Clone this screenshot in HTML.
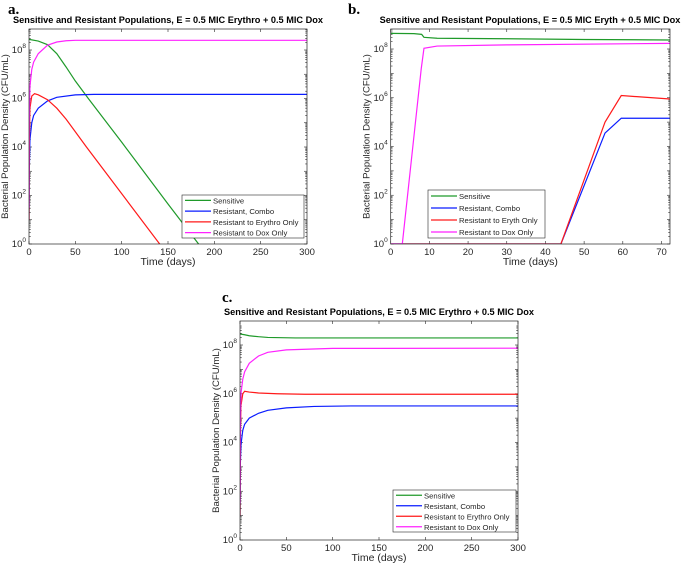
<!DOCTYPE html>
<html><head><meta charset="utf-8"><style>
html,body{margin:0;padding:0;background:#fff;}
svg{display:block;font-family:"Liberation Sans",Arial,sans-serif;}
</style></head><body>
<svg id="fig" width="685" height="566" viewBox="0 0 685 566" xmlns="http://www.w3.org/2000/svg"></svg>
<script>
// ---- Panel a data (log10 CFU/mL) ----
const aSensT=[0,10,20,30,40,50,64,100,150,183,190];
const aSensV=[8.44,8.37,8.22,7.85,7.3,6.72,6.0,4.2,1.65,0,-0.35];
const aComboT=[0,0.3,1,3,5,10,20,30,50,70,300];
const aComboV=[1,3,4.3,5.0,5.3,5.6,5.9,6.05,6.15,6.17,6.17];
const aErythT=[0,0.3,1,3,6,10,20,30,40,62,141,146];
const aErythV=[1,4,5.6,6.1,6.2,6.15,5.95,5.6,5.15,4,0,-0.25];
const aDoxT=[0,0.3,1,3,5,10,20,30,40,50,300];
const aDoxV=[1.5,5,6.5,7.2,7.5,7.85,8.2,8.33,8.38,8.4,8.4];
// ---- Panel b data ----
const bSensT=[0,6,8,8.6,12,30,50,72.2];
const bSensV=[8.64,8.63,8.6,8.48,8.44,8.42,8.39,8.37];
const bComboT=[0,44,55.4,59.6,72.2];
const bComboV=[0,0,4.55,5.16,5.16];
const bErythT=[0,44,55.4,59.6,72.2];
const bErythV=[0,0,5.0,6.09,5.95];
const bDoxT=[0,3,7.9,8.6,12,30,72.2];
const bDoxV=[0,0,7.2,8.03,8.12,8.17,8.23];
// ---- Panel c data ----
const cSensT=[0,5,10,20,30,45,60,100,300];
const cSensV=[8.45,8.42,8.38,8.34,8.31,8.3,8.29,8.29,8.29];
const cComboT=[0,0.3,1,3,5,10,20,30,50,80,120,300];
const cComboV=[1,3,3.9,4.5,4.75,5.0,5.2,5.32,5.42,5.48,5.5,5.5];
const cErythT=[0,0.3,1,3,5,10,20,40,70,100,300];
const cErythV=[1,4,5.5,6.0,6.1,6.07,6.03,6.0,5.98,5.98,5.98];
const cDoxT=[0,0.5,1,3,5,10,20,30,50,100,300];
const cDoxV=[1.5,5,6,6.6,6.9,7.25,7.55,7.7,7.8,7.86,7.87];
const xTicksA=[0,50,100,150,200,250,300];
const xTicksB=[0,10,20,30,40,50,60,70];
const yTicks=[0,2,4,6,8];

const NS="http://www.w3.org/2000/svg";
const svg=document.getElementById('fig');
function mk(tag,attrs,parent){const e=document.createElementNS(NS,tag);for(const k in attrs)e.setAttribute(k,attrs[k]);(parent||svg).appendChild(e);return e;}

function panel(id,box,xmax,ymax,xTicks,series,legend,title,titleX,letter,legendLabels){
  const g=mk('g',{});
  
  
  const {l,r,t,b}=box;
  const y0=b, dec=(b-box.y8)/8;
  const X=v=>l+(v/xmax)*(r-l);
  const Y=v=>y0-v*dec;
  const cp=mk('clipPath',{id:'clip'+id},g);
  mk('rect',{x:l,y:t,width:r-l,height:b-t},cp);
  const lt=mk('text',{x:letter[0],y:letter[1],'font-family':'"Liberation Serif",serif','font-weight':'bold','font-size':'15'},g);
  lt.textContent=id+'.';
  
  
  const tt=mk('text',{x:titleX,y:t-6,'font-weight':'bold','font-size':'9.2','text-anchor':'middle'},g);
  tt.textContent=title;
  
  
  const tg=mk('g',{stroke:'#262626','stroke-width':'0.6'},g);
  xTicks.forEach(v=>{
    const x=X(v);
    mk('line',{x1:x,x2:x,y1:b,y2:b-3},tg);mk('line',{x1:x,x2:x,y1:t,y2:t+3},tg);
    const tx=mk('text',{x:x,y:b+11,'font-size':'9.5','text-anchor':'middle',fill:'#262626',stroke:'none'},g);
    tx.textContent=v;
    
    
  });
  for(let d=0;d<Math.ceil(ymax);d++){
    for(let m=1;m<=9;m++){
      const lv=d+Math.log10(m); if(lv>ymax) break;
      const y=Y(lv), len=m===1?3:1.8;
      mk('line',{x1:l,x2:l+len,y1:y,y2:y},tg);mk('line',{x1:r,x2:r-len,y1:y,y2:y},tg);
    }
  }
  yTicks.forEach(v=>{
    const y=Y(v);
    const tx=mk('text',{x:l-3,y:y+3,'font-size':'9.5','text-anchor':'end',fill:'#262626'},g);
    tx.innerHTML='10<tspan dy="-5" font-size="6.5">'+v+'</tspan>';
    
    
  });
  series.forEach(s=>{
    const d=s.t.map((tv,i)=>(i?'L':'M')+X(tv).toFixed(2)+','+Y(s.v[i]).toFixed(2)).join('');
    const p=mk('path',{d:d,fill:'none',stroke:s.c,'stroke-width':'1.2','clip-path':'url(#clip'+id+')'},g);
    
    
  });
  mk('rect',{x:l,y:t,width:r-l,height:b-t,fill:'none',stroke:'#262626','stroke-width':'0.7'},g);
  const xl=mk('text',{x:(l+r)/2,y:b+21,'font-size':'10.5','text-anchor':'middle',fill:'#262626'},g);
  xl.textContent='Time (days)';
  
  
  const yx=l-21, ym=(t+b)/2;
  const yl=mk('text',{x:yx,y:ym,'font-size':'9.6','text-anchor':'middle',fill:'#262626',transform:'rotate(-90 '+yx+' '+ym+')'},g);
  yl.textContent='Bacterial Population Density (CFU/mL)';
  
  
  const lg=mk('g',{},g);
  
  
  mk('rect',{x:legend.x,y:legend.y,width:legend.w,height:legend.h,fill:'#fff',stroke:'#262626','stroke-width':'0.6'},lg);
  const step=legend.h/4;
  series.forEach((s,i)=>{
    const y=legend.y+step*(i+0.5);
    mk('line',{x1:legend.x+3,x2:legend.x+29,y1:y,y2:y,stroke:s.c,'stroke-width':'1.2'},lg);
    const tx=mk('text',{x:legend.x+31,y:y+3,'font-size':'7.7',fill:'#262626'},lg);
    tx.textContent=legendLabels[i];
    
    
  });
}
const G='#1f9a2a',B='#0a1cff',R='#ff1a1a',M='#ff22ff';
panel('a',{l:29,r:307,t:29,b:244,y8:50},300,8.85,xTicksA,
 [{n:'sensitive',t:aSensT,v:aSensV,c:G},{n:'combo',t:aComboT,v:aComboV,c:B},{n:'erythro',t:aErythT,v:aErythV,c:R},{n:'dox',t:aDoxT,v:aDoxV,c:M}],
 {x:182,y:195,w:122,h:43},'Sensitive and Resistant Populations, E = 0.5 MIC Erythro + 0.5 MIC Dox',168,[8,14],
 ['Sensitive','Resistant, Combo','Resistant to Erythro Only','Resistant to Dox Only']);
panel('b',{l:390.7,r:670,t:29,b:244,y8:49},72.2,8.8,xTicksB,
 [{n:'sensitive',t:bSensT,v:bSensV,c:G},{n:'combo',t:bComboT,v:bComboV,c:B},{n:'erythro',t:bErythT,v:bErythV,c:R},{n:'dox',t:bDoxT,v:bDoxV,c:M}],
 {x:428,y:190,w:117,h:48},'Sensitive and Resistant Populations, E = 0.5 MIC Eryth + 0.5 MIC Dox',530,[348,14],
 ['Sensitive','Resistant, Combo','Resistant to Eryth Only','Resistant to Dox Only']);
panel('c',{l:240,r:518,t:321,b:540,y8:345},300,8.8,xTicksA,
 [{n:'sensitive',t:cSensT,v:cSensV,c:G},{n:'combo',t:cComboT,v:cComboV,c:B},{n:'erythro',t:cErythT,v:cErythV,c:R},{n:'dox',t:cDoxT,v:cDoxV,c:M}],
 {x:393,y:490,w:123,h:42},'Sensitive and Resistant Populations, E = 0.5 MIC Erythro + 0.5 MIC Dox',379,[222,302],
 ['Sensitive','Resistant, Combo','Resistant to Erythro Only','Resistant to Dox Only']);
</script>
</body></html>
